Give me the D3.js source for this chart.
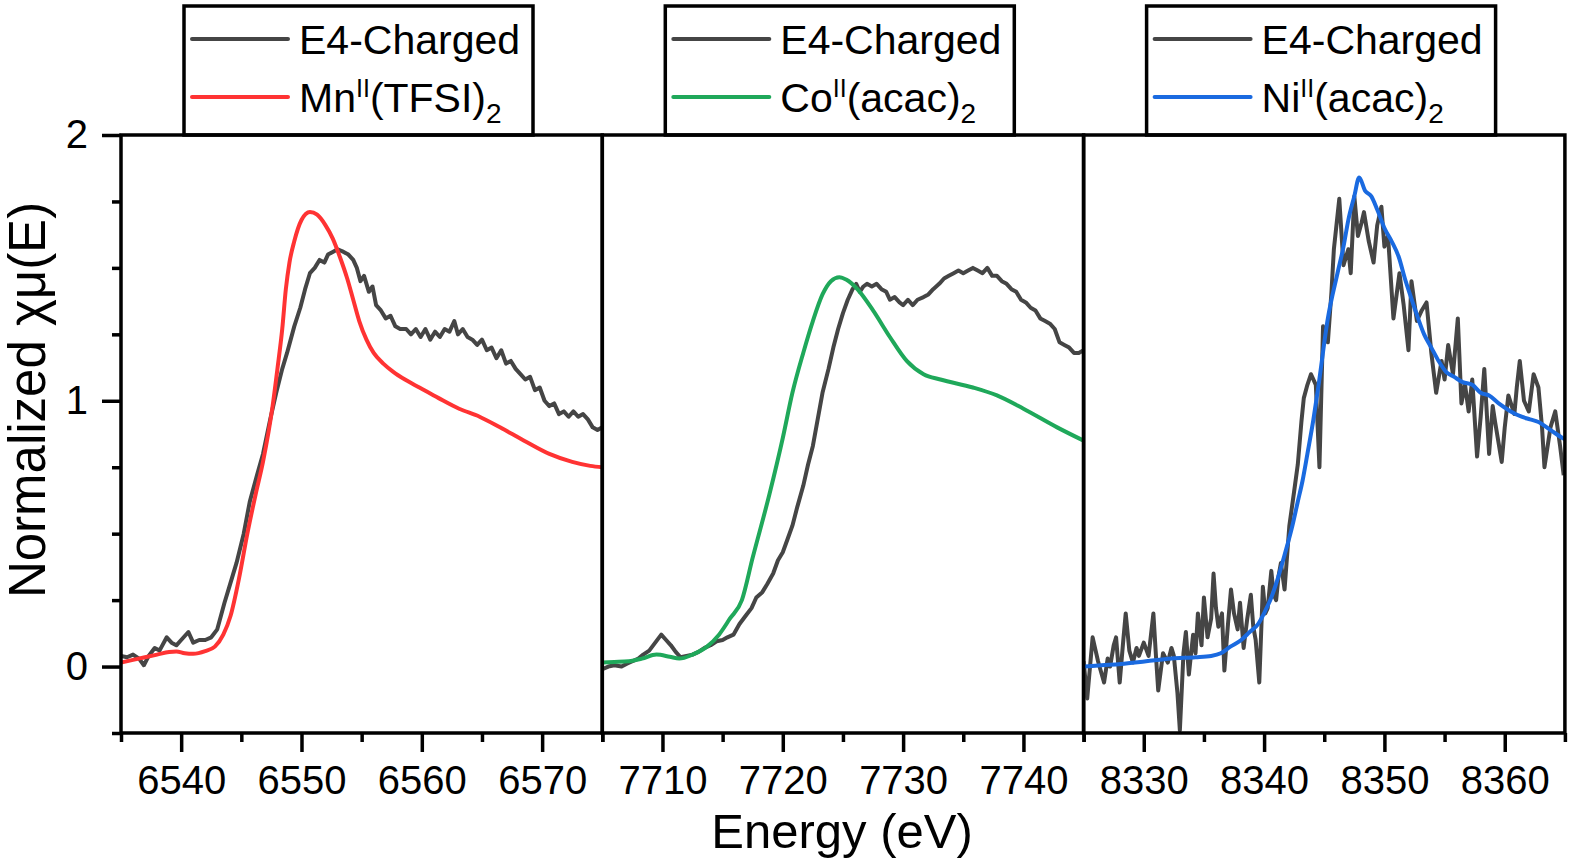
<!DOCTYPE html>
<html>
<head>
<meta charset="utf-8">
<script src="https://cdn.jsdelivr.net/npm/d3@7"></script>
<style>
  body { margin: 0; background: #fff; }
  svg { display: block; }
  text { font-family: "Liberation Sans", Arial, sans-serif; fill: #000; }
</style>
</head>
<body>
<svg id="chart" width="1570" height="868"></svg>
<script>
// Data: [energy (eV), normalized xmu]
const mnCharged = [
  [6535.0,0.04],[6535.5,0.035],[6536.0,0.045],[6536.5,0.03],[6536.9,0.005],[6537.3,0.04],
  [6537.8,0.07],[6538.2,0.06],[6538.8,0.11],[6539.2,0.09],[6539.6,0.08],[6540.0,0.1],
  [6540.6,0.13],[6541.0,0.09],[6541.5,0.1],[6542.0,0.1],[6542.5,0.11],[6543.0,0.14],
  [6543.3,0.19],[6543.6,0.24],[6544.0,0.3],[6544.6,0.39],[6545.2,0.5],[6545.7,0.62],
  [6546.3,0.72],[6546.8,0.8],[6547.4,0.93],[6547.9,1.03],[6548.4,1.12],[6548.8,1.18],
  [6549.4,1.28],[6549.9,1.35],[6550.3,1.42],[6550.7,1.48],[6551.1,1.5],[6551.5,1.53],
  [6551.9,1.52],[6552.2,1.55],[6552.6,1.56],[6553.0,1.57],[6553.5,1.56],[6553.9,1.55],
  [6554.3,1.53],[6554.6,1.5],[6554.9,1.45],[6555.2,1.47],[6555.6,1.41],[6555.9,1.43],
  [6556.2,1.36],[6556.6,1.34],[6557.0,1.31],[6557.4,1.32],[6557.8,1.28],[6558.2,1.27],
  [6558.7,1.27],[6559.1,1.25],[6559.5,1.27],[6559.9,1.24],[6560.3,1.27],[6560.7,1.23],
  [6561.1,1.26],[6561.5,1.24],[6561.9,1.27],[6562.3,1.26],[6562.7,1.3],[6563.0,1.25],
  [6563.4,1.27],[6563.8,1.24],[6564.2,1.23],[6564.6,1.21],[6565.0,1.23],[6565.4,1.19],
  [6565.8,1.2],[6566.2,1.16],[6566.6,1.19],[6567.0,1.14],[6567.4,1.15],[6567.8,1.12],
  [6568.2,1.1],[6568.6,1.08],[6569.0,1.09],[6569.4,1.04],[6569.8,1.05],[6570.2,1.0],
  [6570.6,0.98],[6571.0,0.99],[6571.4,0.95],[6571.8,0.96],[6572.2,0.94],[6572.6,0.96],
  [6573.0,0.94],[6573.4,0.95],[6573.8,0.93],[6574.2,0.9],[6574.6,0.89],[6575.0,0.9]
];
const mnTFSI = [
  [6535,0.015],[6536,0.025],[6537,0.035],[6538,0.045],[6539,0.055],[6539.6,0.057],
  [6540.3,0.05],[6541,0.048],[6542,0.058],[6542.8,0.075],[6543.5,0.12],[6544.1,0.19],
  [6544.8,0.33],[6545.5,0.5],[6546.2,0.65],[6546.8,0.77],[6547.6,0.98],[6548.0,1.12],
  [6548.4,1.27],[6548.7,1.42],[6549.0,1.52],[6549.4,1.6],[6550.0,1.68],[6550.7,1.71],
  [6551.3,1.7],[6552.0,1.66],[6552.6,1.61],[6553.2,1.54],[6553.8,1.46],[6554.3,1.38],
  [6554.8,1.3],[6555.4,1.23],[6556.0,1.18],[6556.8,1.14],[6557.6,1.11],[6558.6,1.08],
  [6559.8,1.05],[6561.4,1.01],[6563.1,0.97],[6564.8,0.94],[6566.5,0.9],[6568.5,0.85],
  [6570.6,0.8],[6572.5,0.77],[6574,0.755],[6575,0.75]
];
const coCharged = [
  [7705.0,-0.01],[7705.5,0.0],[7706.0,0.005],[7706.6,0.0],[7707.0,0.01],[7707.5,0.02],
  [7708.0,0.03],[7708.4,0.045],[7708.9,0.06],[7709.4,0.09],[7709.9,0.12],[7710.3,0.1],
  [7710.7,0.08],[7711.1,0.055],[7711.5,0.035],[7712.0,0.04],[7712.5,0.045],[7713.0,0.055],
  [7713.5,0.07],[7714.0,0.08],[7714.5,0.095],[7715.0,0.1],[7715.4,0.11],[7715.9,0.12],
  [7716.4,0.16],[7716.9,0.19],[7717.4,0.22],[7717.8,0.26],[7718.3,0.28],[7718.7,0.31],
  [7719.2,0.35],[7719.6,0.4],[7720.0,0.43],[7720.4,0.48],[7720.8,0.53],[7721.2,0.6],
  [7721.7,0.68],[7722.1,0.76],[7722.5,0.83],[7722.9,0.93],[7723.3,1.03],[7723.8,1.12],
  [7724.2,1.2],[7724.6,1.27],[7725.0,1.33],[7725.4,1.38],[7725.8,1.42],[7726.1,1.44],
  [7726.4,1.41],[7726.7,1.43],[7727.0,1.44],[7727.4,1.43],[7727.8,1.44],[7728.2,1.42],
  [7728.6,1.41],[7728.9,1.38],[7729.3,1.39],[7729.7,1.37],[7730.0,1.36],[7730.4,1.38],
  [7730.8,1.36],[7731.2,1.38],[7731.7,1.39],[7732.1,1.4],[7732.5,1.42],[7733.0,1.44],
  [7733.4,1.46],[7733.8,1.47],[7734.2,1.48],[7734.6,1.49],[7735.0,1.48],[7735.4,1.49],
  [7735.8,1.5],[7736.2,1.49],[7736.6,1.48],[7737.0,1.5],[7737.4,1.47],[7737.8,1.47],
  [7738.2,1.45],[7738.6,1.44],[7739.0,1.42],[7739.4,1.41],[7739.8,1.38],[7740.2,1.37],
  [7740.6,1.35],[7741.0,1.34],[7741.4,1.31],[7741.8,1.3],[7742.2,1.29],[7742.6,1.27],
  [7743.0,1.22],[7743.4,1.21],[7743.8,1.2],[7744.2,1.18],[7744.6,1.18],[7745.0,1.19]
];
const coAcac = [
  [7705,0.015],[7706,0.017],[7707.2,0.02],[7708.3,0.03],[7709.5,0.045],[7710.6,0.037],
  [7711.4,0.03],[7712.5,0.045],[7713.7,0.075],[7714.7,0.12],[7715.6,0.18],[7716.6,0.25],
  [7717.5,0.41],[7718.9,0.65],[7720.0,0.86],[7720.8,1.03],[7721.7,1.18],[7722.5,1.3],
  [7723.3,1.4],[7724.0,1.45],[7724.7,1.465],[7725.3,1.455],[7726.2,1.42],[7727.5,1.34],
  [7728.9,1.24],[7730.3,1.15],[7731.7,1.1],[7733.1,1.08],[7735.8,1.05],[7737.8,1.02],
  [7740.0,0.97],[7742.8,0.9],[7745,0.85]
];
const niCharged = [
  [8325.0,0.02],[8325.3,-0.12],[8325.75,0.11],[8326.0,0.06],[8326.2,0.02],[8326.7,-0.06],
  [8327.0,0.03],[8327.2,0.0],[8327.5,0.08],[8327.7,0.11],[8328.0,-0.06],[8328.3,0.1],
  [8328.5,0.2],[8328.8,0.06],[8329.1,0.015],[8329.4,0.07],[8329.6,0.04],[8330.0,0.09],
  [8330.4,0.04],[8330.8,0.2],[8331.0,0.05],[8331.2,-0.09],[8331.6,0.05],[8332.0,0.015],
  [8332.3,0.07],[8332.5,0.04],[8332.8,-0.1],[8333.0,-0.24],[8333.3,0.05],[8333.5,0.13],
  [8333.75,-0.03],[8334.1,0.12],[8334.3,0.05],[8334.5,0.2],[8334.8,0.08],[8335.0,0.26],
  [8335.3,0.11],[8335.6,0.18],[8335.8,0.35],[8336.0,0.22],[8336.2,0.15],[8336.5,0.2],
  [8336.7,-0.015],[8337.0,0.16],[8337.25,0.29],[8337.5,0.2],[8337.8,0.14],[8338.0,0.24],
  [8338.3,0.07],[8338.6,0.18],[8338.9,0.27],[8339.1,0.15],[8339.3,0.1],[8339.6,-0.06],
  [8339.9,0.3],[8340.1,0.2],[8340.3,0.22],[8340.6,0.36],[8340.8,0.27],[8341.0,0.25],
  [8341.2,0.34],[8341.4,0.39],[8341.7,0.29],[8342.1,0.53],[8342.5,0.66],[8342.8,0.76],
  [8343.1,0.92],[8343.3,1.01],[8343.6,1.06],[8343.9,1.1],[8344.3,1.06],[8344.6,0.75],
  [8344.9,1.28],[8345.3,1.22],[8345.6,1.41],[8345.8,1.57],[8346.25,1.76],[8346.6,1.51],
  [8347.0,1.57],[8347.2,1.48],[8347.5,1.77],[8347.8,1.62],[8348.1,1.67],[8348.3,1.71],
  [8348.7,1.6],[8349.1,1.52],[8349.4,1.66],[8349.75,1.73],[8350.0,1.58],[8350.3,1.62],
  [8350.75,1.31],[8351.25,1.48],[8351.6,1.36],[8352.0,1.19],[8352.25,1.45],[8352.7,1.3],
  [8353.1,1.34],[8353.5,1.37],[8353.9,1.18],[8354.3,1.03],[8354.75,1.15],[8355.0,1.08],
  [8355.3,1.21],[8355.7,1.1],[8356.1,1.31],[8356.4,0.99],[8356.7,1.06],[8357.0,0.96],
  [8357.3,1.08],[8357.7,0.79],[8358.0,0.94],[8358.3,1.12],[8358.7,0.8],[8359.0,0.98],
  [8359.2,0.92],[8359.75,0.77],[8360.0,0.9],[8360.3,1.02],[8360.8,0.95],[8361.0,1.05],
  [8361.25,1.15],[8361.6,1.0],[8362.0,0.96],[8362.4,1.1],[8362.8,1.05],[8363.1,0.9],
  [8363.3,0.75],[8363.8,0.9],[8364.2,0.96],[8364.6,0.83],[8364.9,0.72]
];
const niAcac = [
  [8325.0,0.0],[8326.5,0.005],[8328.1,0.01],[8330.2,0.02],[8332.3,0.03],[8334.3,0.035],
  [8335.6,0.04],[8336.4,0.05],[8337.2,0.075],[8338.1,0.1],[8338.8,0.13],[8339.5,0.16],
  [8340.1,0.21],[8340.6,0.26],[8341.2,0.34],[8341.7,0.42],[8342.3,0.52],[8342.8,0.62],
  [8343.2,0.7],[8343.6,0.8],[8344.1,0.93],[8344.5,1.05],[8345.3,1.31],[8346.1,1.48],
  [8346.6,1.58],[8347.0,1.68],[8347.5,1.77],[8347.9,1.84],[8348.4,1.79],[8348.9,1.77],
  [8349.4,1.72],[8350.0,1.65],[8350.6,1.6],[8351.2,1.54],[8351.7,1.46],[8352.2,1.39],
  [8352.8,1.31],[8353.3,1.25],[8353.9,1.2],[8354.5,1.15],[8355.1,1.11],[8355.8,1.09],
  [8356.5,1.07],[8357.3,1.06],[8358.0,1.03],[8358.7,1.02],[8359.5,0.99],[8360.5,0.96],
  [8361.4,0.94],[8362.1,0.93],[8362.8,0.92],[8363.8,0.89],[8364.8,0.86],[8365.0,0.855]
];

// Axis ranges and tick labels
const mnDomain = [6535, 6575];
const coDomain = [7705, 7745];
const niDomain = [8325, 8365];
const mnTicks = [6540, 6550, 6560, 6570];
const coTicks = [7710, 7720, 7730, 7740];
const niTicks = [8330, 8340, 8350, 8360];
const yDomain = [-0.25, 2];
const yTicks = [0, 1, 2];
const yMinorTicks = [-0.25, 0.25, 0.5, 0.75, 1.25, 1.5, 1.75];

const chargedLabel = "E4-Charged";
const COLORS = { charged: "#454545", mn: "#ff3333", co: "#1fa85a", ni: "#1a6ae0" };

const panels = [
  { domain: mnDomain, ticks: mnTicks, charged: mnCharged, ref: mnTFSI, color: COLORS.mn,
    refLabel: ["Mn", "II", "(TFSI)", "2"] },
  { domain: coDomain, ticks: coTicks, charged: coCharged, ref: coAcac, color: COLORS.co,
    refLabel: ["Co", "II", "(acac)", "2"] },
  { domain: niDomain, ticks: niTicks, charged: niCharged, ref: niAcac, color: COLORS.ni,
    refLabel: ["Ni", "II", "(acac)", "2"] },
];

// Layout
const LAYOUT = {
  left: 121, top: 135, bottom: 733, panelW: 481.3,
  frame: 3.5, majorTick: 19, minorTick: 9,
  tickFont: 40, legendFont: 41, titleFont: 49,
  legendOffset: 63, legendW: 349, legendTop: 6,
};

const svg = d3.select("#chart");
const y = d3.scaleLinear().domain(yDomain).range([LAYOUT.bottom, LAYOUT.top]);

panels.forEach((p, i) => {
  const x0 = LAYOUT.left + i * LAYOUT.panelW;
  const x = d3.scaleLinear().domain(p.domain).range([x0, x0 + LAYOUT.panelW]);
  const g = svg.append("g").attr("class", "panel");

  // Legend box sits on top of the frame
  const lx = x0 + LAYOUT.legendOffset;
  const leg = g.append("g").attr("class", "legend");
  leg.append("rect")
    .attr("x", lx).attr("y", LAYOUT.legendTop)
    .attr("width", LAYOUT.legendW).attr("height", LAYOUT.top - LAYOUT.legendTop)
    .attr("fill", "#fff").attr("stroke", "#000").attr("stroke-width", LAYOUT.frame);

  const rows = [
    { color: COLORS.charged, y: 39 },
    { color: p.color, y: 97 },
  ];
  leg.selectAll("line.key").data(rows).join("line")
    .attr("class", "key")
    .attr("x1", lx + 8).attr("x2", lx + 104)
    .attr("y1", (d) => d.y).attr("y2", (d) => d.y)
    .attr("stroke", (d) => d.color).attr("stroke-width", 4).attr("stroke-linecap", "round");

  leg.append("text")
    .attr("x", lx + 115).attr("y", 39).attr("dy", "0.36em")
    .attr("font-size", LAYOUT.legendFont)
    .text(chargedLabel);

  const t2 = leg.append("text")
    .attr("x", lx + 115).attr("y", 97).attr("dy", "0.36em")
    .attr("font-size", LAYOUT.legendFont);
  t2.append("tspan").text(p.refLabel[0]);
  t2.append("tspan").attr("font-size", 25).attr("dy", -15).text(p.refLabel[1]);
  t2.append("tspan").attr("dy", 15).text(p.refLabel[2]);
  t2.append("tspan").attr("font-size", 28).attr("dy", 11).text(p.refLabel[3]);

  // Curves, clipped to the panel
  const clipId = `clip${i}`;
  svg.append("clipPath").attr("id", clipId).append("rect")
    .attr("x", x0).attr("y", LAYOUT.top)
    .attr("width", LAYOUT.panelW).attr("height", LAYOUT.bottom - LAYOUT.top);

  const plot = g.append("g").attr("clip-path", `url(#${clipId})`);
  const lineRaw = d3.line().x((d) => x(d[0])).y((d) => y(d[1]));
  const lineSmooth = d3.line().x((d) => x(d[0])).y((d) => y(d[1])).curve(d3.curveMonotoneX);

  plot.append("path").datum(p.charged)
    .attr("d", lineRaw).attr("fill", "none")
    .attr("stroke", COLORS.charged).attr("stroke-width", 4).attr("stroke-linejoin", "round");
  plot.append("path").datum(p.ref)
    .attr("d", lineSmooth).attr("fill", "none")
    .attr("stroke", p.color).attr("stroke-width", 4).attr("stroke-linejoin", "round");

  // Frame
  g.append("rect")
    .attr("x", x0).attr("y", LAYOUT.top)
    .attr("width", LAYOUT.panelW).attr("height", LAYOUT.bottom - LAYOUT.top)
    .attr("fill", "none").attr("stroke", "#000").attr("stroke-width", LAYOUT.frame);

  // Bottom axis: major ticks with labels, minor ticks between
  const minor = d3.range(p.domain[0], p.domain[1] + 0.01, 10);
  const axMinor = d3.axisBottom(x).tickValues(minor).tickSize(LAYOUT.minorTick).tickFormat("");
  const axMajor = d3.axisBottom(x).tickValues(p.ticks).tickSize(LAYOUT.majorTick)
    .tickPadding(14).tickFormat(d3.format("d"));

  [axMinor, axMajor].forEach((ax) => {
    const a = g.append("g").attr("transform", `translate(0,${LAYOUT.bottom})`).call(ax);
    a.select(".domain").remove();
    a.selectAll("line").attr("stroke", "#000").attr("stroke-width", LAYOUT.frame);
    a.selectAll("text").attr("font-size", LAYOUT.tickFont)
      .attr("font-family", '"Liberation Sans", Arial, sans-serif').attr("fill", "#000");
  });

  // Left axis only on the first panel
  if (i === 0) {
    const ayMinor = d3.axisLeft(y).tickValues(yMinorTicks).tickSize(LAYOUT.minorTick).tickFormat("");
    const ayMajor = d3.axisLeft(y).tickValues(yTicks).tickSize(LAYOUT.majorTick)
      .tickPadding(14).tickFormat(d3.format("d"));
    [ayMinor, ayMajor].forEach((ax) => {
      const a = g.append("g").attr("transform", `translate(${x0},0)`).call(ax);
      a.select(".domain").remove();
      a.selectAll("line").attr("stroke", "#000").attr("stroke-width", LAYOUT.frame);
      a.selectAll("text").attr("font-size", LAYOUT.tickFont)
        .attr("font-family", '"Liberation Sans", Arial, sans-serif').attr("fill", "#000");
    });
  }
});

// Axis titles
svg.append("text")
  .attr("x", 842).attr("y", 848)
  .attr("text-anchor", "middle")
  .attr("font-size", LAYOUT.titleFont)
  .text("Energy (eV)");

svg.append("text")
  .attr("transform", "translate(45,400) rotate(-90)")
  .attr("text-anchor", "middle")
  .attr("font-size", 51)
  .text("Normalized \u03c7\u03bc(E)");
</script>
</body>
</html>
